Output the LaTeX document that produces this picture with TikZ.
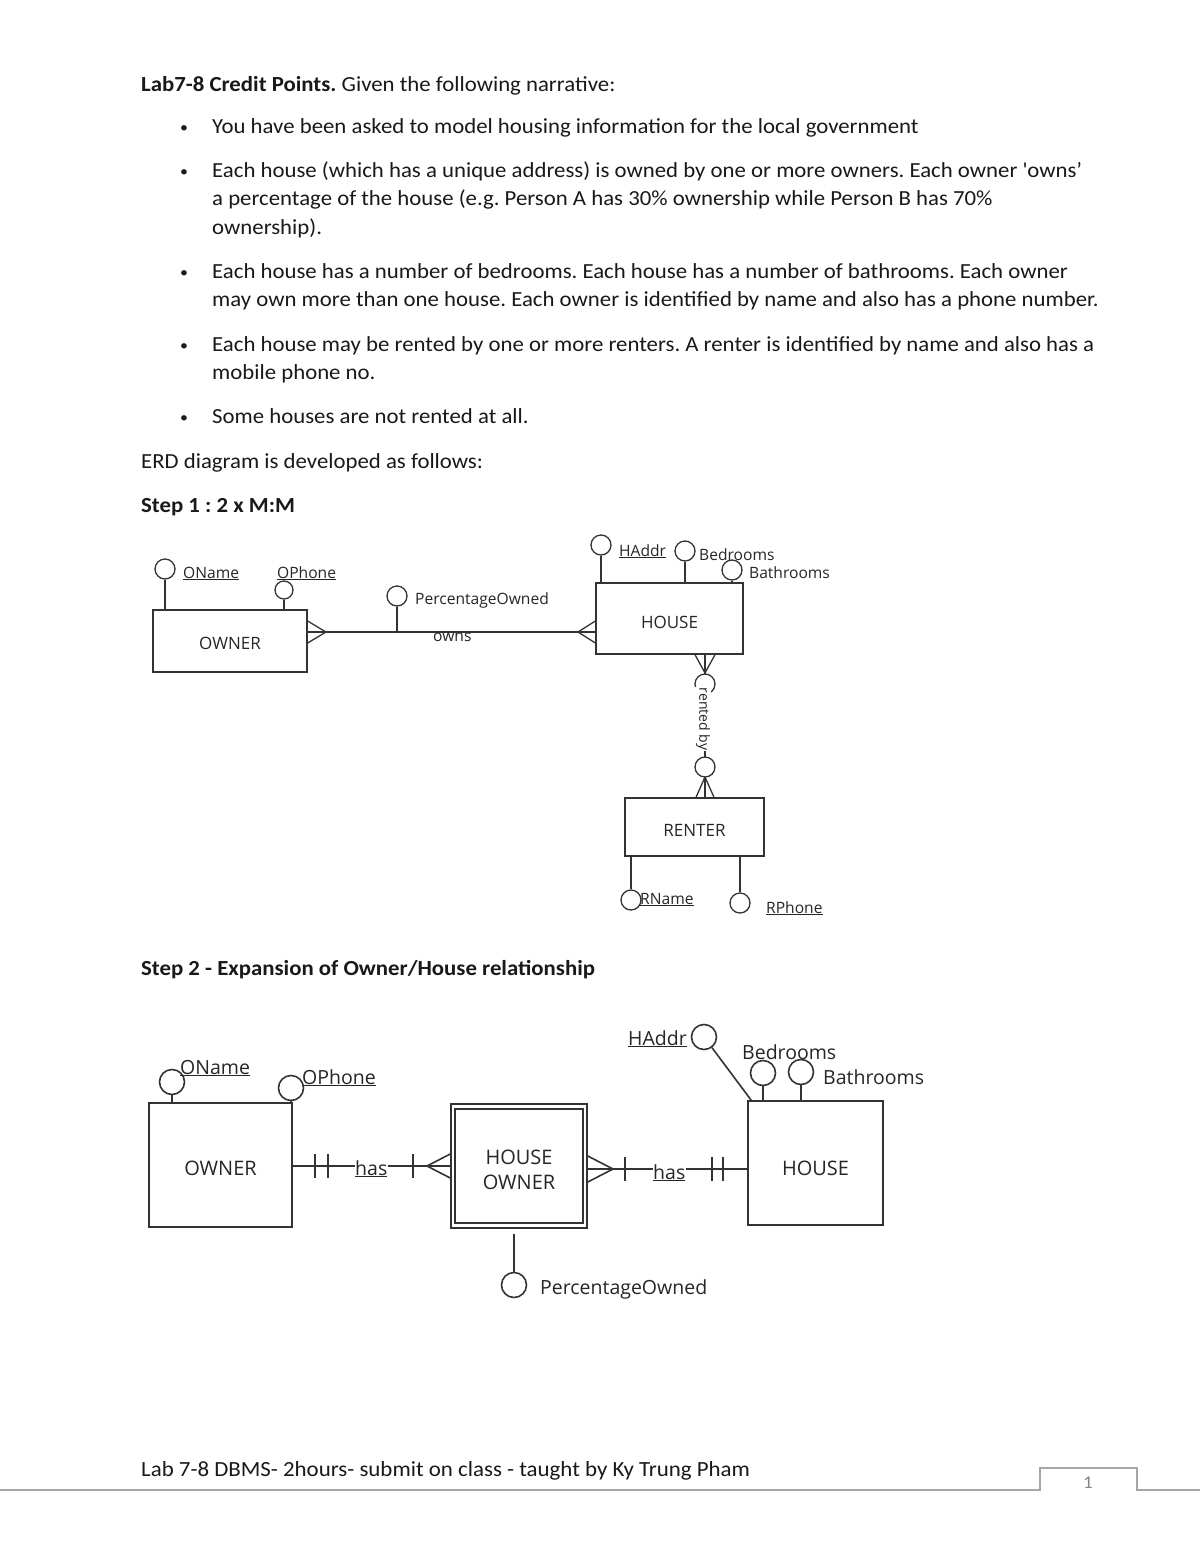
\documentclass[tikz,border=0pt]{standalone}
\usepackage{fontspec}
\setmainfont[FakeStretch=1.06]{Carlito}
\newfontfamily\dfont{Open Sans}
\usetikzlibrary{calc}
\definecolor{ink}{HTML}{333333}
\definecolor{foot}{HTML}{A6A6A6}
\newcommand\lowr[2]{\raisebox{-#1}[\height][\depth]{#2}}
\frenchspacing
\begin{document}
\begin{tikzpicture}[x=1pt,y=-1pt,
  txt/.style={anchor=base west, inner sep=0, font=\fontsize{21.5}{26}\selectfont, text=black!90},
  bul/.style={anchor=base west, inner sep=0, font=\fontsize{15}{16}\selectfont, text=black!90},
  ent/.style={draw=ink, line width=1.3, fill=white, inner sep=0, font=\dfont\fontsize{17}{20}\selectfont, text=black!85},
  ent2/.style={draw=ink, line width=1.6, fill=white, inner sep=0, font=\dfont\fontsize{20}{25}\selectfont, text=black!85},
  attr/.style={circle, draw=ink, line width=1.3, fill=white, minimum size=20, inner sep=0},
  attr2/.style={circle, draw=ink, line width=1.6, fill=white, minimum size=25, inner sep=0},
  alab/.style={anchor=base west, inner sep=0, font=\dfont\fontsize{15.6}{18}\selectfont, text=black!85},
  alab2/.style={anchor=base west, inner sep=0, font=\dfont\fontsize{19.5}{22}\selectfont, text=black!85},
  ln/.style={draw=ink, line width=1.3},
  ln2/.style={draw=ink, line width=1.6}
]
\useasboundingbox[fill=white] (0,0) rectangle (1200,1553);

% ---------- narrative text ----------
\node[txt] (t0) at (141,91) {\textbf{Lab7-8 Credit Points.} Given the following narrative:};
\node[bul] (bu1) at (180,132) {\textbullet};
\node[txt] (l1) at (212,133) {You have been asked to model housing information for the local government};
\node[bul] (bu2) at (180,176) {\textbullet};
\node[txt] (l2) at (212,177) {Each house (which has a unique address) is owned by one or more owners. Each owner \textquotesingle owns’};
\node[txt] (l3) at (212,205) {a percentage of the house (e.g. Person A has 30\% ownership while Person B has 70\%};
\node[txt] (l4) at (212,234) {ownership).};
\node[bul] (bu3) at (180,277) {\textbullet};
\node[txt] (l5) at (212,278) {Each house has a number of bedrooms. Each house has a number of bathrooms. Each owner};
\node[txt] (l6) at (212,306) {may own more than one house. Each owner is identified by name and also has a phone number.};
\node[bul] (bu4) at (180,350) {\textbullet};
\node[txt] (l7) at (212,351) {Each house may be rented by one or more renters. A renter is identified by name and also has a};
\node[txt] (l8) at (212,379) {mobile phone no.};
\node[bul] (bu5) at (180,422) {\textbullet};
\node[txt] (l9) at (212,423) {Some houses are not rented at all.};
\node[txt] (erd) at (141,468) {ERD diagram is developed as follows:};
\node[txt] (s1) at (141,512) {\textbf{Step 1 : 2 x M:M}};
\node[txt] (s2) at (141,975) {\textbf{Step 2 - Expansion of Owner/House relationship}};

% ---------- Step 1 ----------
\node[ent, minimum width=154, minimum height=62] (own1) at (230,641) {\lowr{2pt}{OWNER}};
\node[ent, minimum width=147, minimum height=71] (hou1) at (669.5,618.5) {\lowr{3.5pt}{HOUSE}};
\node[ent, minimum width=139, minimum height=58] (ren1) at (694.5,827) {\lowr{3pt}{RENTER}};

\node[attr] (oname1) at (165,569) {};
\draw[ln] (oname1.south) -- (oname1.south |- own1.north);
\node[alab] (oname1l) at (183,578) {\underline{OName}};
\node[alab] (ophone1l) at (277,578) {\underline{OPhone}};
\node[attr, minimum size=18] (ophone1) at (284,590) {};
\draw[ln] (ophone1.south) -- (ophone1.south |- own1.north);

\draw[ln] (own1.east |- 0,632) -- (hou1.west |- 0,632);
\draw[ln] (own1.east |- 0,621) -- (326,632) -- (own1.east |- 0,643);
\draw[ln] (hou1.west |- 0,621) -- (578,632) -- (hou1.west |- 0,643);
\node[attr] (pct1) at (397,596) {};
\draw[ln] (pct1.south) -- (pct1.south |- 0,632);
\node[alab] (pct1l) at (415,604) {PercentageOwned};
\node[alab] (owns) at (433,641) {owns};

\node[attr] (haddr1) at (601,545) {};
\draw[ln] (haddr1.south) -- (haddr1.south |- hou1.north);
\node[alab] (haddr1l) at (619,556) {\underline{HAddr}};
\node[attr] (bed1) at (685,551) {};
\draw[ln] (bed1.south) -- (bed1.south |- hou1.north);
\node[alab] (bed1l) at (699,560) {Bedrooms};
\node[attr] (bath1) at (732,570) {};
\draw[ln] (bath1.south) -- (bath1.south |- hou1.north);
\node[alab] (bath1l) at (749,578) {Bathrooms};

\draw[ln] (hou1.south -| 705,0) -- (ren1.north -| 705,0);
\draw[ln] (hou1.south -| 695,0) -- (705,673) -- (hou1.south -| 715,0);
\draw[ln] (ren1.north -| 696,0) -- (705,777) -- (ren1.north -| 714,0);
\node[attr] (opt1) at (705,684) {};
\node[attr] (opt2) at (705,767) {};
\node[rotate=-90, fill=white, inner sep=1, font=\dfont\fontsize{14}{16}\selectfont, text=black!85] (rb) at (703,719) {rented by};

\node[attr] (rname1) at (631,900) {};
\draw[ln] (rname1.north) -- (rname1.north |- ren1.south);
\node[alab] (rname1l) at (640,904) {\underline{RName}};
\node[attr] (rph1) at (740,903) {};
\draw[ln] (rph1.north) -- (rph1.north |- ren1.south);
\node[alab] (rph1l) at (766,913) {\underline{RPhone}};

% ---------- Step 2 ----------
\node[ent2, minimum width=143, minimum height=124] (own2) at (220.5,1165) {\lowr{3pt}{OWNER}};
\node[ent2, minimum width=136, minimum height=124] (ho2) at (519,1166) {\lowr{5.5pt}{\begin{tabular}{@{}c@{}}HOUSE\\OWNER\end{tabular}}};
\draw[ln2] ($(ho2.north west)+(5,6)$) rectangle ($(ho2.south east)+(-5,-6)$);
\node[ent2, minimum width=135, minimum height=124] (hou2) at (815.5,1163) {\lowr{5.5pt}{HOUSE}};

\node[attr2] (oname2) at (172,1082) {};
\draw[ln2] (oname2.south) -- (oname2.south |- own2.north);
\node[alab2] (oname2l) at (180,1074) {\underline{OName}};
\node[attr2] (ophone2) at (291,1088) {};
\draw[ln2] (ophone2.south) -- (ophone2.south |- own2.north);
\node[alab2] (ophone2l) at (302,1084) {\underline{OPhone}};

\node[alab2] (has1) at (355,1175) {\underline{has}};
\draw[ln2] (own2.east |- 0,1166) -- (has1.west |- 0,1166);
\draw[ln2] (has1.east |- 0,1166) -- (ho2.west |- 0,1166);
\draw[ln2] (315,1154) -- (315,1178);
\draw[ln2] (328,1154) -- (328,1178);
\draw[ln2] (413,1154) -- (413,1178);
\draw[ln2] (ho2.west |- 0,1154) -- (427,1166) -- (ho2.west |- 0,1178);

\node[alab2] (has2) at (653,1179) {\underline{has}};
\draw[ln2] (ho2.east |- 0,1169) -- (has2.west |- 0,1169);
\draw[ln2] (has2.east |- 0,1169) -- (hou2.west |- 0,1169);
\draw[ln2] (ho2.east |- 0,1156) -- (613,1169) -- (ho2.east |- 0,1182);
\draw[ln2] (625,1157) -- (625,1181);
\draw[ln2] (712,1157) -- (712,1181);
\draw[ln2] (723,1157) -- (723,1181);

\node[attr2] (haddr2) at (704,1037) {};
\draw[ln2] (haddr2) -- ($(hou2.north west)+(4,0)$);
\node[alab2] (haddr2l) at (628,1045) {\underline{HAddr}};
\node[attr2] (bed2) at (763,1073) {};
\draw[ln2] (bed2.south) -- (bed2.south |- hou2.north);
\node[alab2] (bed2l) at (742,1059) {Bedrooms};
\node[attr2] (bath2) at (801,1072) {};
\draw[ln2] (bath2.south) -- (bath2.south |- hou2.north);
\node[alab2] (bath2l) at (823,1084) {Bathrooms};

\node[attr2] (pct2) at (514,1285) {};
\draw[ln2] ($(ho2.south -| pct2)+(0,5)$) -- (pct2.north);
\node[alab2] (pct2l) at (540,1294) {PercentageOwned};

% ---------- footer ----------
\node[txt, font=\fontsize{21.6}{24}\selectfont] (ft) at (141,1476) {Lab 7-8 DBMS- 2hours- submit on class - taught by Ky Trung Pham};
\draw[foot, line width=2.5] (0,1490) -- (1040,1490) -- (1040,1468) -- (1137,1468) -- (1137,1490) -- (1200,1490);
\node[font=\fontsize{18}{20}\selectfont, text=foot!80!black] (pg) at (1088,1483) {1};
\end{tikzpicture}
\end{document}
